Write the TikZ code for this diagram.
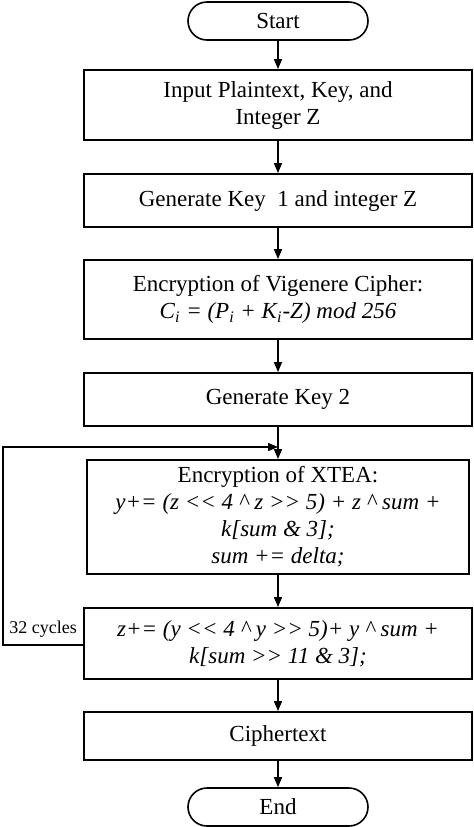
\documentclass[tikz,border=0pt]{standalone}
\usepackage{fontspec}
\setmainfont{Liberation Serif}
\usetikzlibrary{arrows.meta}
\newcommand{\xr}{\textasciicircum}
\newcommand{\shl}{<{}<}
\newcommand{\shr}{>{}>}

\begin{document}
\begin{tikzpicture}[x=0.5pt,y=-0.5pt]
                        \tikzstyle{every node}=[font=\fontsize{11.5}{13.5}\selectfont]
                        \tikzstyle{term}=[draw, line width=0.8pt, rounded corners=9.5pt, minimum width=90pt, minimum height=19pt]
                        \tikzstyle{stepbox}=[draw, line width=0.9pt, minimum width=194pt, align=center]
                        \tikzstyle{flow}=[line width=0.7pt, -{Triangle[length=5pt,width=4pt]}]
                        \useasboundingbox (0,0) rectangle (474,827);
                        \node[term] (start) at (278,21) {Start};
                        \node[stepbox, minimum height=35pt] (input) at (278,105)
                            {Input Plaintext, Key, and\\Integer Z};
                        \node[stepbox, minimum height=26.5pt] (keyone) at (278,200.5)
                            {Generate Key \ 1 and integer Z};
                        \node[stepbox, minimum height=39.5pt] (vig) at (278,299.5)
                            {Encryption of Vigenere Cipher:\\
                             \textit{C\textsubscript{i} = (P\textsubscript{i} + K\textsubscript{i}-Z) mod 256}};
                        \node[stepbox, minimum height=26.5pt] (keytwo) at (278,399.5)
                            {Generate Key 2};
                        \node[stepbox, minimum width=191pt, minimum height=57pt] (xtea) at (278,517)
                            {Encryption of XTEA:\\
                             \textit{y+= (z \shl\ 4 \xr\ z \shr\ 5) + z \xr\ sum +}\\
                             \textit{k[sum \& 3];}\\
                             \textit{sum += delta;}};
                        \node[stepbox, minimum height=35.5pt] (zstep) at (278,643.5)
                            {\textit{z+= (y \shl\ 4 \xr\ y \shr\ 5)+ y \xr\ sum +}\\
                             \textit{k[sum \shr\ 11 \& 3];}};
                        \node[stepbox, minimum height=24pt] (cipher) at (278,736)
                            {Ciphertext};
                        \node[term] (end) at (278,807) {End};
                        \coordinate (join) at (278,447);
                        \coordinate (loopbot) at (3,645);
                        \coordinate (looptop) at (3,447);
                        % main flow
                        \draw[flow] (start) -- (input);
                        \draw[flow] (input) -- (keyone);
                        \draw[flow] (keyone) -- (vig);
                        \draw[flow] (vig) -- (keytwo);
                        \draw[flow] (keytwo) -- (xtea);
                        \draw[flow] (xtea) -- (zstep);
                        \draw[flow] (zstep) -- (cipher);
                        \draw[flow] (cipher) -- (end);
                        % loop back
                        \draw[flow] (zstep.west |- loopbot) -- (loopbot)
                            node[midway, above, font=\fontsize{9}{11}\selectfont] {32 cycles}
                            -- (looptop) -- (join);
                    \end{tikzpicture}
\end{document}
